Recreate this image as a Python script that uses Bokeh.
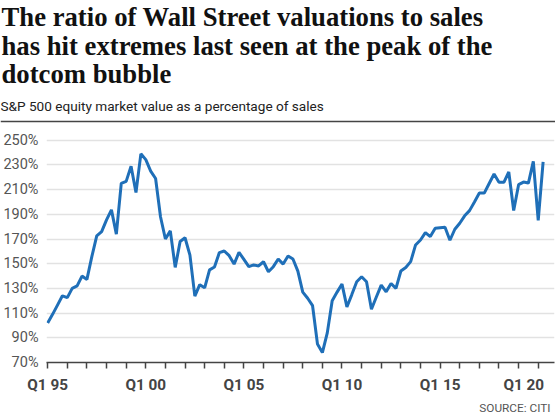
from bokeh.plotting import figure
from bokeh.layouts import column
from bokeh.models import FixedTicker, Label, Span, Range1d, CustomJSTickFormatter
from bokeh.embed import file_html
from bokeh.resources import INLINE

# Quarterly data, Q1 1995 .. Q2 2020 (S&P 500 market value as % of sales)
start_year = 1995
ratio_pct = [
    102, 109, 116.5, 124, 122.5, 130, 132, 140, 137.3, 155.7, 172.5, 176,
    185.5, 193.6, 174, 215, 216.7, 229, 207.7, 239, 234.3, 225, 219, 188,
    170, 176.6, 147, 168, 171, 157, 123.7, 133, 130.5, 145, 147.3, 159,
    160.3, 156.5, 149.7, 159.2, 153.5, 147.6, 149, 148.2, 151.6, 143.5, 147.6, 153.8,
    149.7, 156.2, 153.8, 144, 127, 122, 116, 85, 78, 94, 120, 127,
    133.5, 115, 125, 135.4, 139.4, 135.4, 113.1, 123, 132.7, 127.2, 134, 130,
    144.1, 147, 151.7, 165.2, 169.2, 175.2, 172, 178.7, 179.2, 179.5, 169, 177.9,
    182.8, 188.8, 193, 200, 207.2, 207.2, 215, 222.6, 215.9, 215.9, 224.3, 193.1,
    214, 216.1, 215.3, 232.9, 185, 232.4,
]
quarter_x = [start_year + i / 4 for i in range(len(ratio_pct))]

y_ticks = [70, 90, 110, 130, 150, 170, 190, 210, 230, 250]
x_ticks = list(range(1995, 2021))
x_tick_labels = {1995: "Q1 95", 2000: "Q1 00", 2005: "Q1 05", 2010: "Q1 10",
                 2015: "Q1 15", 2020: "Q1 20"}

title_lines = [
    "The ratio of Wall Street valuations to sales",
    "has hit extremes last seen at the peak of the",
    "dotcom bubble",
]
subtitle = "S&P 500 equity market value as a percentage of sales"
source = "SOURCE: CITI"

SANS = "Roboto"
SERIF = "Liberation Serif"
W = 555
HEAD_H = 124
FOOT_H = 21
MAIN_H = 417 - HEAD_H - FOOT_H


def no_align(f):
    if hasattr(f, "frame_align"):
        f.frame_align = False
    return f


def blank(height):
    f = figure(width=W, height=height, output_backend="svg", toolbar_location=None,
               x_range=Range1d(0, W), y_range=Range1d(0, height),
               min_border=0, x_axis_type=None, y_axis_type=None)
    f.outline_line_color = None
    f.xgrid.visible = False
    f.ygrid.visible = False
    return no_align(f)


# ---- header: title, subtitle, rule
head = blank(HEAD_H)
title_baselines = [16.3, 45.7, 73.7]  # px from top
for line, yb in zip(title_lines, title_baselines):
    head.add_layout(Label(x=1, y=HEAD_H - yb, text=line,
                          text_font=SERIF, text_font_style="bold", text_font_size="26.7px",
                          text_color="#111111", text_baseline="alphabetic"))
head.add_layout(Label(x=0, y=HEAD_H - 105.8, text=subtitle,
                      text_font=SANS, text_font_size="13.6px", text_color="#222222",
                      text_baseline="alphabetic"))
head.add_layout(Span(location=HEAD_H - 121, dimension="width",
                     line_color="#444444", line_width=1.5))

# ---- main chart
p = figure(width=W, height=MAIN_H, output_backend="svg", toolbar_location=None,
           x_range=Range1d(1994.94, 2020.83), y_range=Range1d(70, 259.5),
           min_border_left=45, min_border_right=1, min_border_top=4, min_border_bottom=34)
no_align(p)
p.outline_line_color = None

p.line(quarter_x, ratio_pct, line_color="#1f6fb8", line_width=3)

p.yaxis.ticker = FixedTicker(ticks=y_ticks)
p.yaxis.formatter = CustomJSTickFormatter(code="return tick.toFixed(0) + '%';")
p.yaxis.axis_line_color = None
p.yaxis.major_tick_line_color = None
p.yaxis.major_tick_out = 0
p.yaxis.major_tick_in = 0
p.yaxis.minor_tick_line_color = None
p.yaxis.minor_tick_out = 0
p.yaxis.major_label_standoff = 8
p.yaxis.major_label_text_font = SANS
p.yaxis.major_label_text_font_size = "14.5px"
p.yaxis.major_label_text_color = "#555555"

p.ygrid.ticker = FixedTicker(ticks=y_ticks[1:])
p.ygrid.grid_line_color = "#e2e2e2"
p.ygrid.grid_line_width = 1.5
p.xgrid.grid_line_color = None

p.xaxis.ticker = FixedTicker(ticks=x_ticks)
overrides = {t: x_tick_labels.get(t, "") for t in x_ticks}
overrides[2020] = x_tick_labels[2020] + "\u00a0" * 3
p.xaxis.major_label_overrides = overrides
p.xaxis.axis_line_color = "#444444"
p.xaxis.axis_line_width = 1.5
p.xaxis.major_tick_line_color = "#444444"
p.xaxis.major_tick_line_width = 1.5
p.xaxis.major_tick_out = 6
p.xaxis.major_tick_in = 0
p.xaxis.minor_tick_line_color = None
p.xaxis.major_label_standoff = 7
p.xaxis.major_label_text_font = SANS
p.xaxis.major_label_text_font_size = "15.3px"
p.xaxis.major_label_text_font_style = "bold"
p.xaxis.major_label_text_color = "#444444"

# ---- footer: source
foot = blank(FOOT_H)
foot.add_layout(Label(x=550, y=FOOT_H - 11.7, text=source,
                      text_font=SANS, text_font_size="11.8px", text_color="#555555",
                      text_align="right", text_baseline="alphabetic"))

layout = column(head, p, foot, spacing=0)
open("out.html", "w").write(file_html(layout, INLINE))
